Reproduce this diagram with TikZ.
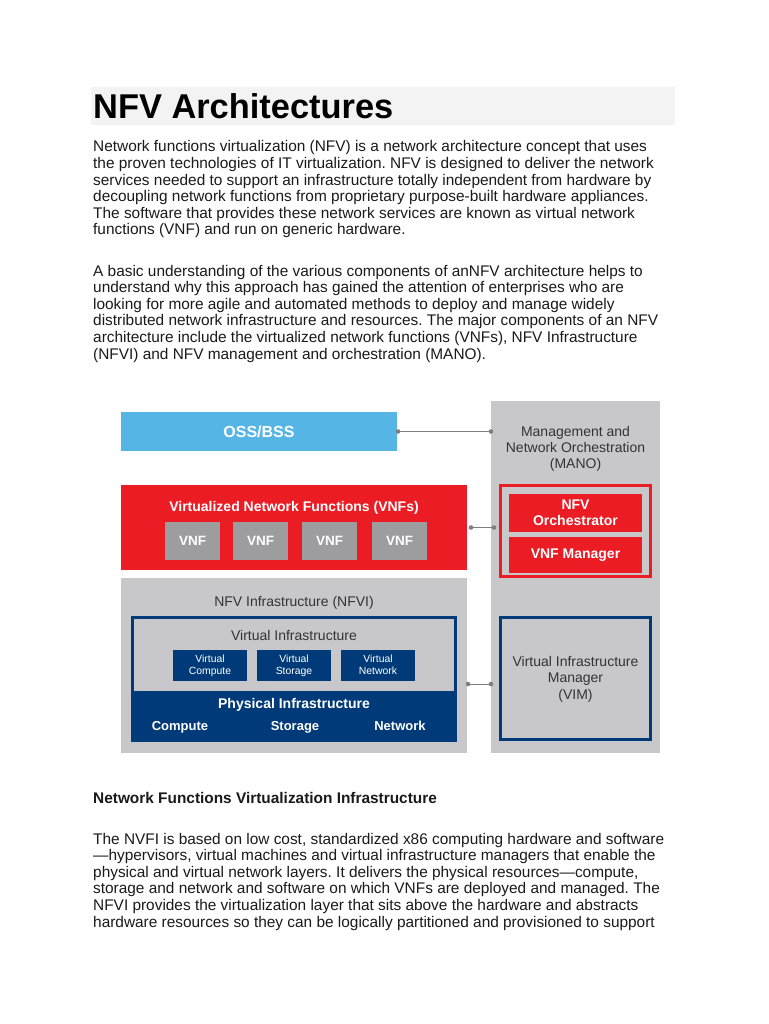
\documentclass[tikz,border=0pt]{standalone}
\usepackage{fontspec}
\setmainfont{Liberation Sans}
\usetikzlibrary{calc}
\frenchspacing
\definecolor{bandgray}{HTML}{F3F3F3}
\definecolor{bodytext}{HTML}{1A1A1A}
\definecolor{ossblue}{HTML}{55B6E6}
\definecolor{nfvred}{HTML}{EC1C24}
\definecolor{panelgray}{HTML}{C8C8CA}
\definecolor{vnfgray}{HTML}{9D9D9F}
\definecolor{navy}{HTML}{003A78}
\definecolor{labeltext}{HTML}{333333}
\definecolor{conngray}{HTML}{7F7F7F}
\newcommand\fsz[2]{\fontsize{#1}{#2}\selectfont}
\tikzset{
  box/.style={anchor=north west, inner sep=0pt, outer sep=0pt, align=center},
  para/.style={anchor=base west, inner sep=0pt, align=left, text=bodytext, font=\frenchspacing\fsz{15.4}{16.6}},
  whitebold/.style={text=white, font=\bfseries\fsz{14}{16}},
  graylabel/.style={inner sep=0pt, align=center, text=labeltext, font=\fsz{14}{16.3}},
  conn/.style={draw=conngray, line width=0.9pt},
  dot/.style={fill=conngray},
}
\begin{document}
\begin{tikzpicture}[x=1pt,y=-1pt]
\useasboundingbox (0,0) rectangle (768,1024);
\fill[white] (0,0) rectangle (768,1024);

% title
\fill[bandgray] (91,87) rectangle (675,125);
\node[anchor=base west, inner sep=0pt, font=\bfseries\fsz{34.4}{36}, text=black] (title) at (93,119) {NFV Architectures};

% paragraphs: the base anchor is the baseline of the last line
\node[para] (p1) at (93,235) {Network functions virtualization (NFV) is a network architecture concept that uses\\
the proven technologies of IT virtualization. NFV is designed to deliver the network\\
services needed to support an infrastructure totally independent from hardware by\\
decoupling network functions from proprietary purpose-built hardware appliances.\\
The software that provides these network services are known as virtual network\\
functions (VNF) and run on generic hardware.};

\node[para] (p2) at (93,359) {A basic understanding of the various components of anNFV architecture helps to\\
understand why this approach has gained the attention of enterprises who are\\
looking for more agile and automated methods to deploy and manage widely\\
distributed network infrastructure and resources. The major components of an NFV\\
architecture include the virtualized network functions (VNFs), NFV Infrastructure\\
(NFVI) and NFV management and orchestration (MANO).};

% diagram
\node[box, fill=ossblue, minimum width=276, minimum height=39, text=white, font=\bfseries\fsz{16}{18}] (oss) at (121,412) {OSS/BSS};

\node[box, fill=panelgray, minimum width=169, minimum height=352] (mano) at (491,401) {};
\node[graylabel] (manolabel) at (575.5,449) {Management and\\Network Orchestration\\(MANO)};
\node[box, draw=nfvred, line width=3pt, minimum width=150, minimum height=91] (manored) at (500.5,485.5) {};
\node[box, fill=nfvred, minimum width=133, minimum height=38, whitebold] (nfvo) at (509,494) {NFV\\Orchestrator};
\node[box, fill=nfvred, minimum width=133, minimum height=36, whitebold] (vnfm) at (509,537) {VNF Manager};
\node[box, draw=navy, line width=3pt, minimum width=150, minimum height=122] (vim) at (500.5,617.5) {};
\node[graylabel, font=\fsz{14}{16.5}] (vimlabel) at (575.5,679) {Virtual Infrastructure\\Manager\\(VIM)};

\node[box, fill=nfvred, minimum width=346, minimum height=85] (vnfs) at (121,485) {};
\node[inner sep=0pt, whitebold] (vnfstitle) at (294,508) {Virtualized Network Functions (VNFs)};
\foreach \i/\xx in {1/165,2/233,3/302,4/372}
  \node[box, fill=vnfgray, minimum width=55, minimum height=38, whitebold, font=\bfseries\fsz{13.5}{16}] (vnf\i) at (\xx,522) {VNF};

\node[box, fill=panelgray, minimum width=346, minimum height=175] (nfvi) at (121,578) {};
\node[graylabel] (nfvilabel) at (294,603) {NFV Infrastructure (NFVI)};
\node[box, fill=navy, minimum width=326, minimum height=126] (vi) at (131,616) {};
\node[box, fill=panelgray, minimum width=320, minimum height=72] (virt) at (134,619) {};
\node[graylabel] (virtlabel) at (294,635) {Virtual Infrastructure};
\foreach \i/\xx/\t in {1/173/{Virtual\\Compute},2/257/{Virtual\\Storage},3/341/{Virtual\\Network\vphantom{p}}}
  \node[box, fill=navy, minimum width=74, minimum height=31, text=white, font=\fsz{10.4}{12}] (vbox\i) at (\xx,650) {\t};
\node[inner sep=0pt, whitebold] (physlabel) at (294,704.5) {Physical Infrastructure};
\node[anchor=base, inner sep=0pt, whitebold, font=\bfseries\fsz{13}{15}] (pcompute) at (180,730.5) {Compute};
\node[anchor=base, inner sep=0pt, whitebold, font=\bfseries\fsz{13}{15}] (pstorage) at (295,730.5) {Storage};
\node[anchor=base, inner sep=0pt, whitebold, font=\bfseries\fsz{13}{15}] (pnetwork) at (400,730.5) {Network};

% connectors
\draw[conn] (oss.east) -- (oss.east -| mano.west);
\fill[dot] ($(oss.east)+(1,0)$) circle (2.3);
\fill[dot] (oss.east -| mano.west) circle (2.3);

\draw[conn] ($(vnfs.east)+(4,0)$) -- ($(vnfs.east -| mano.west)+(3,0)$);
\fill[dot] ($(vnfs.east)+(4,0)$) circle (2.3);
\fill[dot] ($(vnfs.east -| mano.west)+(3,0)$) circle (2.3);

\coordinate (nfviport) at (468,684);
\draw[conn] (nfviport) -- (nfviport -| mano.west);
\fill[dot] (nfviport) circle (2.3);
\fill[dot] (nfviport -| mano.west) circle (2.3);

% bottom text
\node[anchor=base west, inner sep=0pt, font=\bfseries\fsz{15.4}{16.6}, text=bodytext] (h2) at (93,803) {Network Functions Virtualization Infrastructure};

\node[para] (p3) at (93,927) {The NVFI is based on low cost, standardized x86 computing hardware and software\\
---hypervisors, virtual machines and virtual infrastructure managers that enable the\\
physical and virtual network layers. It delivers the physical resources---compute,\\
storage and network and software on which VNFs are deployed and managed. The\\
NFVI provides the virtualization layer that sits above the hardware and abstracts\\
hardware resources so they can be logically partitioned and provisioned to support};
\end{tikzpicture}
\end{document}
